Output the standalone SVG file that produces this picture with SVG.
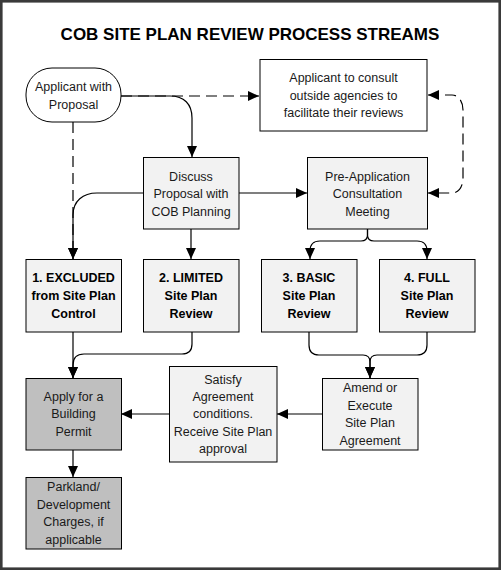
<svg xmlns="http://www.w3.org/2000/svg" width="501" height="570" viewBox="0 0 501 570">
<style>
.t{font-family:"Liberation Sans",Arial,sans-serif;font-size:12.5px;fill:#1a1a1a;text-anchor:middle}
.b{font-weight:bold;fill:#000}
.box{stroke:#000;stroke-width:1}
.lt{fill:#f2f2f2}
.dk{fill:#bfbfbf}
.wh{fill:#fff}
.c{fill:none;stroke:#000;stroke-width:1.2}
.d{stroke-dasharray:11 6}
</style>
<defs>
<marker id="ah" markerWidth="11" markerHeight="10" refX="11" refY="5" orient="auto-start-reverse" markerUnits="userSpaceOnUse">
<path d="M0,0 L11,5 L0,10 z" fill="#000"/>
</marker>
</defs>
<rect x="0" y="0" width="501" height="570" fill="#fff"/>
<rect x="1.3" y="1.3" width="498.4" height="567.4" fill="none" stroke="#3a3a3a" stroke-width="2.6"/>
<text x="250" y="40" class="t b" style="font-size:17px">COB SITE PLAN REVIEW PROCESS STREAMS</text>

<g id="connectors">
<path class="c" d="M121,96 H170 C184,96 192,104 192,118 V157" marker-end="url(#ah)"/>
<path class="c d" d="M121,96 H259" marker-end="url(#ah)"/>
<path class="c d" d="M73,122 V259" marker-end="url(#ah)"/>
<path class="c d" d="M428,95 H452 C459,95 463,102 463,110 V178 C463,186 459,193 452,193 H428" marker-start="url(#ah)" marker-end="url(#ah)"/>
<path class="c" d="M143,193 H97 C83,193 73,201 73,215 V259" marker-end="url(#ah)"/>
<path class="c" d="M191,229 V259" marker-end="url(#ah)"/>
<path class="c" d="M239,193 H307" marker-end="url(#ah)"/>
<path class="c" d="M367.5,229 V235 Q367.5,241 361,241 H320 Q310,241 310,251 V259" marker-end="url(#ah)"/>
<path class="c" d="M367.5,229 V235 Q367.5,241 374,241 H417 Q427,241 427,251 V259" marker-end="url(#ah)"/>
<path class="c" d="M309,332 V345 Q309,355 319,355 H363 Q370,355 370,362 V378" marker-end="url(#ah)"/>
<path class="c" d="M427,332 V345 Q427,355 417,355 H377 Q370,355 370,362 V378" marker-end="url(#ah)"/>
<path class="c" d="M73,332 V378" marker-end="url(#ah)"/>
<path class="c" d="M192,332 V344 Q192,354 182,354 H84 Q73,354 73,365 V378" marker-end="url(#ah)"/>
<path class="c" d="M322,414 H277" marker-end="url(#ah)"/>
<path class="c" d="M169,414 H121" marker-end="url(#ah)"/>
<path class="c" d="M73,450 V477" marker-end="url(#ah)"/>
</g>

<g id="applicant">
<rect class="box wh" x="26" y="68" width="95" height="54" rx="26" ry="26"/>
<text class="t" x="73.5" y="91">Applicant with</text>
<text class="t" x="73.5" y="108.5">Proposal</text>
</g>
<g id="consult">
<rect class="box wh" x="260" y="59.5" width="167" height="71.5"/>
<text class="t" x="343.5" y="82">Applicant to consult</text>
<text class="t" x="343.5" y="99.5">outside agencies to</text>
<text class="t" x="343.5" y="117">facilitate their reviews</text>
</g>
<g id="discuss">
<rect class="box lt" x="143.5" y="157.5" width="95.5" height="71.5"/>
<text class="t" x="191" y="180.5">Discuss</text>
<text class="t" x="191" y="198">Proposal with</text>
<text class="t" x="191" y="215.5">COB Planning</text>
</g>
<g id="preapp">
<rect class="box lt" x="307.5" y="157.5" width="120" height="71.5"/>
<text class="t" x="367.5" y="180.5">Pre-Application</text>
<text class="t" x="367.5" y="198">Consultation</text>
<text class="t" x="367.5" y="215.5">Meeting</text>
</g>
<g id="excluded">
<rect class="box lt" x="26" y="259.5" width="95.5" height="72.5"/>
<text class="t b" x="73.5" y="282">1. EXCLUDED</text>
<text class="t b" x="73.5" y="300">from Site Plan</text>
<text class="t b" x="73.5" y="317.5">Control</text>
</g>
<g id="limited">
<rect class="box lt" x="143.5" y="259.5" width="95.5" height="72.5"/>
<text class="t b" x="191" y="282">2. LIMITED</text>
<text class="t b" x="191" y="300">Site Plan</text>
<text class="t b" x="191" y="317.5">Review</text>
</g>
<g id="basic">
<rect class="box lt" x="261.5" y="259.5" width="95.5" height="72.5"/>
<text class="t b" x="309" y="282">3. BASIC</text>
<text class="t b" x="309" y="300">Site Plan</text>
<text class="t b" x="309" y="317.5">Review</text>
</g>
<g id="full">
<rect class="box lt" x="379.5" y="259.5" width="95.5" height="72.5"/>
<text class="t b" x="427" y="282">4. FULL</text>
<text class="t b" x="427" y="300">Site Plan</text>
<text class="t b" x="427" y="317.5">Review</text>
</g>
<g id="apply">
<rect class="box dk" x="26" y="378.5" width="95.5" height="71.5"/>
<text class="t" x="73.5" y="400.5">Apply for a</text>
<text class="t" x="73.5" y="418">Building</text>
<text class="t" x="73.5" y="435.5">Permit</text>
</g>
<g id="satisfy">
<rect class="box lt" x="169.5" y="366.5" width="107.5" height="95.5"/>
<text class="t" x="223" y="383.5">Satisfy</text>
<text class="t" x="223" y="401">Agreement</text>
<text class="t" x="223" y="418">conditions.</text>
<text class="t" x="223" y="435.5">Receive Site Plan</text>
<text class="t" x="223" y="453">approval</text>
</g>
<g id="amend">
<rect class="box lt" x="322.5" y="378.5" width="95.5" height="71.5"/>
<text class="t" x="370" y="392">Amend or</text>
<text class="t" x="370" y="409.5">Execute</text>
<text class="t" x="370" y="427">Site Plan</text>
<text class="t" x="370" y="444.5">Agreement</text>
</g>
<g id="parkland">
<rect class="box dk" x="26" y="477.5" width="95.5" height="71.5"/>
<text class="t" x="73.5" y="491">Parkland/</text>
<text class="t" x="73.5" y="508.5">Development</text>
<text class="t" x="73.5" y="526">Charges, if</text>
<text class="t" x="73.5" y="543.5">applicable</text>
</g>
</svg>
